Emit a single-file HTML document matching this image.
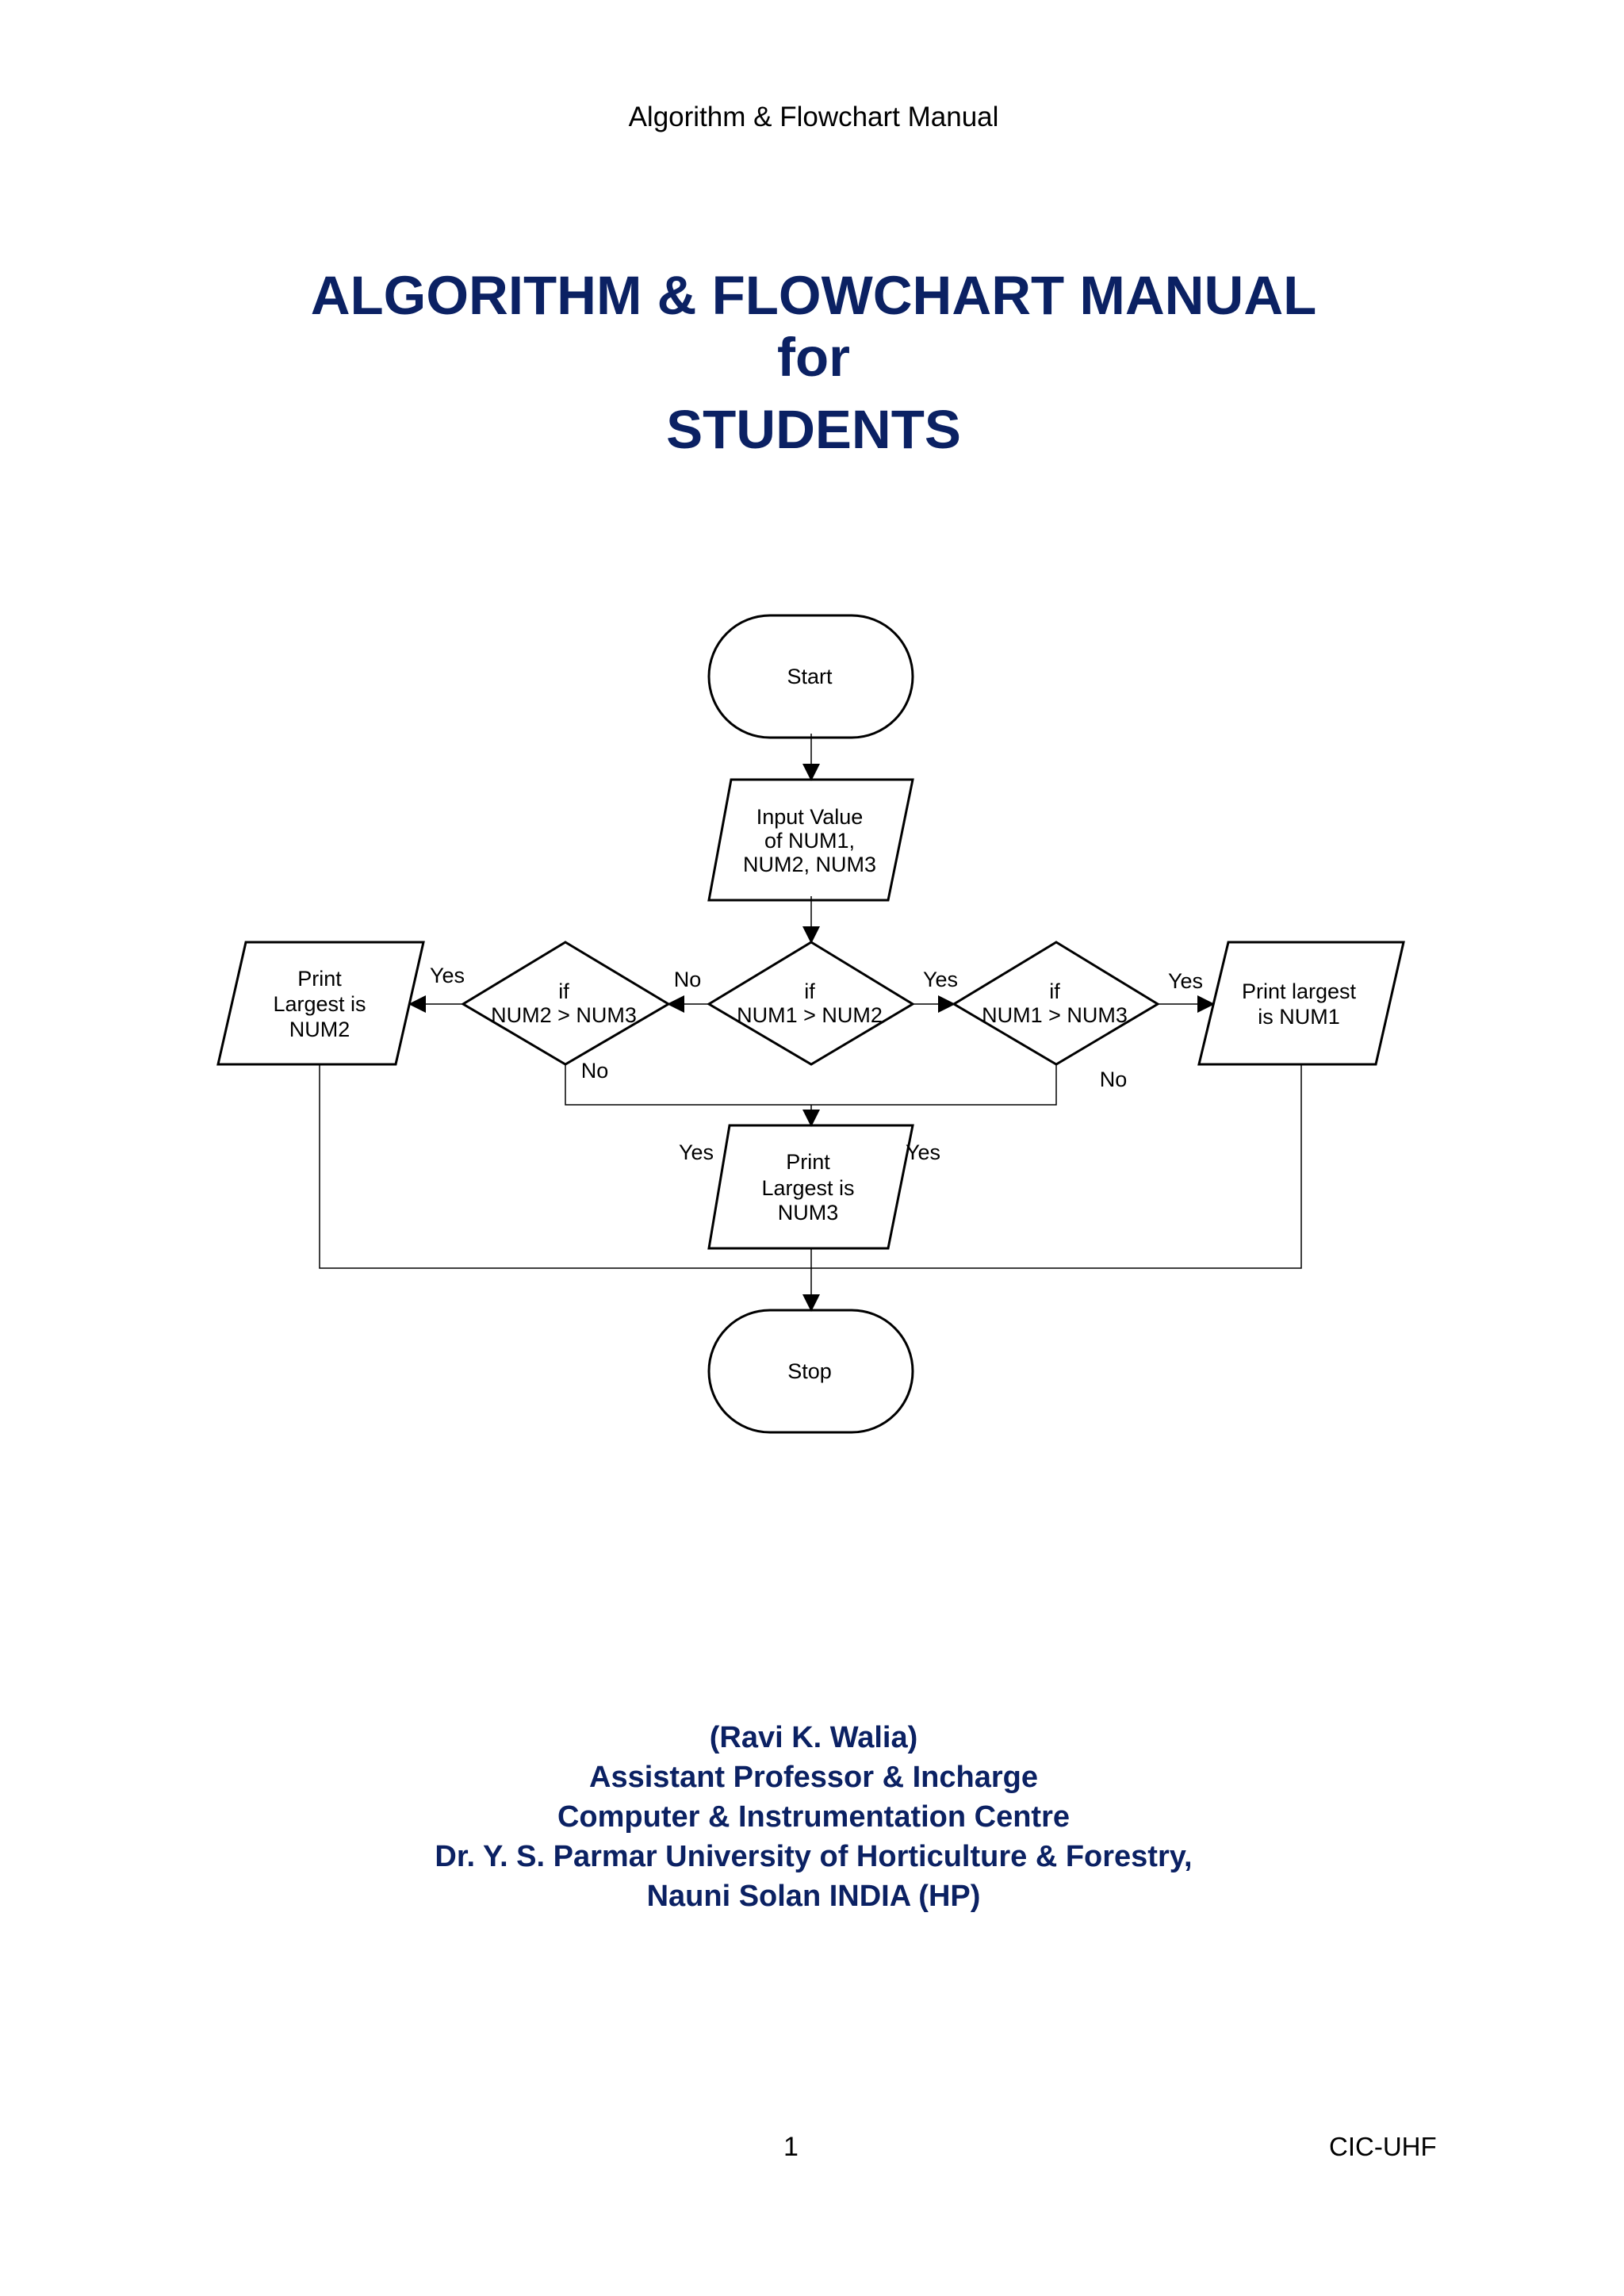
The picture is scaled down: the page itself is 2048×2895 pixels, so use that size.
<!DOCTYPE html>
<html><head><meta charset="utf-8"><style>
html,body{margin:0;padding:0;background:#fff}
body{width:2048px;height:2895px;position:relative;overflow:hidden;font-family:"Liberation Sans",Arial,sans-serif}
.c{position:absolute;left:0;width:2052px;text-align:center}
.t{color:#0b2163;font-weight:bold;font-size:69px;line-height:1}
.b{color:#0b2163;font-weight:bold;font-size:38px;line-height:1}
</style></head><body>
<div class="c" style="top:128px;font-size:35px">Algorithm &amp; Flowchart Manual</div>
<div class="c t" style="top:338px">ALGORITHM &amp; FLOWCHART MANUAL</div>
<div class="c t" style="top:416px">for</div>
<div class="c t" style="top:507px">STUDENTS</div>
<svg style="position:absolute;left:0;top:0" width="2048" height="2895" viewBox="0 0 2048 2895">
<defs>
<marker id="A" markerWidth="22" markerHeight="22" refX="20" refY="11" orient="auto" markerUnits="userSpaceOnUse"><path d="M0,0 L22,11 L0,22 z" fill="#000"/></marker></defs>
<g fill="#fff" stroke="#000" stroke-width="3">
<rect x="894" y="776" width="257" height="154" rx="77" ry="77"/>
<polygon points="922,983 1151,983 1120,1135 894,1135"/>
<polygon points="1023,1188 1151,1266 1023,1342 894,1266"/>
<polygon points="713,1188 843,1266 713,1342 584,1266"/>
<polygon points="1332,1188 1460,1266 1332,1342 1203,1266"/>
<polygon points="310,1188 534,1188 499,1342 275,1342"/>
<polygon points="1549,1188 1770,1188 1735,1342 1512,1342"/>
<polygon points="920,1419 1151,1419 1120,1574 894,1574"/>
<rect x="894" y="1652" width="257" height="154" rx="77" ry="77"/>
</g>
<g fill="none" stroke="#000" stroke-width="1.5">
<line x1="1023" y1="925" x2="1023" y2="983" marker-end="url(#A)"/>
<line x1="1023" y1="1130" x2="1023" y2="1188" marker-end="url(#A)"/>
<line x1="894" y1="1266" x2="843" y2="1266" marker-end="url(#A)"/>
<line x1="584" y1="1266" x2="517" y2="1266" marker-end="url(#A)"/>
<line x1="1151" y1="1266" x2="1203" y2="1266" marker-end="url(#A)"/>
<line x1="1460" y1="1266" x2="1530" y2="1266" marker-end="url(#A)"/>
<polyline points="713,1342 713,1393 1332,1393 1332,1342"/>
<line x1="1023" y1="1393" x2="1023" y2="1419" marker-end="url(#A)"/>
<polyline points="403,1342 403,1599 1641,1599 1641,1342"/>
<line x1="1023" y1="1574" x2="1023" y2="1652" marker-end="url(#A)"/>
</g>
<g font-family="Liberation Sans,Arial,sans-serif" font-size="27" text-anchor="middle" fill="#000">
<text x="1021" y="862">Start</text>
<text x="1021" y="1039">Input Value</text>
<text x="1021" y="1069">of NUM1,</text>
<text x="1021" y="1099">NUM2, NUM3</text>
<text x="1021" y="1259">if</text>
<text x="1021" y="1289">NUM1 &gt; NUM2</text>
<text x="711" y="1259">if</text>
<text x="711" y="1289">NUM2 &gt; NUM3</text>
<text x="1330" y="1259">if</text>
<text x="1330" y="1289">NUM1 &gt; NUM3</text>
<text x="403" y="1243">Print</text>
<text x="403" y="1275">Largest is</text>
<text x="403" y="1307">NUM2</text>
<text x="1638" y="1259">Print largest</text>
<text x="1638" y="1291">is NUM1</text>
<text x="1019" y="1474">Print</text>
<text x="1019" y="1507">Largest is</text>
<text x="1019" y="1538">NUM3</text>
<text x="1021" y="1738">Stop</text>
<text x="564" y="1239">Yes</text>
<text x="867" y="1244">No</text>
<text x="1186" y="1244">Yes</text>
<text x="1495" y="1246">Yes</text>
<text x="750" y="1359">No</text>
<text x="1404" y="1370">No</text>
<text x="878" y="1462">Yes</text>
<text x="1164" y="1462">Yes</text>
</g>
</svg>
<div class="c b" style="top:2172px">(Ravi K. Walia)</div>
<div class="c b" style="top:2222px">Assistant Professor &amp; Incharge</div>
<div class="c b" style="top:2272px">Computer &amp; Instrumentation Centre</div>
<div class="c b" style="top:2322px">Dr. Y. S. Parmar University of Horticulture &amp; Forestry,</div>
<div class="c b" style="top:2372px">Nauni Solan INDIA (HP)</div>
<div style="position:absolute;left:988px;top:2688px;font-size:34px">1</div>
<div style="position:absolute;left:1676px;top:2688px;font-size:33px">CIC-UHF</div>
</body></html>
